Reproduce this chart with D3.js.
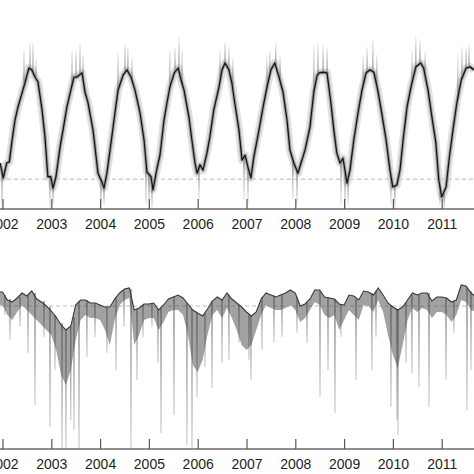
<!DOCTYPE html>
<html><head><meta charset="utf-8">
<script src="https://cdn.jsdelivr.net/npm/d3@7"></script>
<style>html,body{margin:0;padding:0;background:#fff;}svg{display:block;}</style>
</head><body>
<svg id="c" width="474" height="474"></svg>
<script>
// ---------- data ----------
const years = [2002,2003,2004,2005,2006,2007,2008,2009,2010,2011];

// top panel: smoothed temperature (°C)
const topT = [2001.95,2002.016,2002.086,2002.14,2002.19,2002.256,2002.318,2002.40,2002.46,2002.54,2002.60,2002.666,2002.727,2002.81,2002.87,2002.93,2002.99,
2003.035,2003.096,2003.18,2003.24,2003.32,2003.40,2003.465,2003.527,2003.63,2003.69,2003.75,2003.855,2003.957,
2004.039,2004.08,2004.14,2004.24,2004.305,2004.367,2004.47,2004.55,2004.633,2004.715,2004.818,2004.90,2004.96,
2005.043,2005.084,2005.166,2005.227,2005.31,2005.37,2005.43,2005.52,2005.60,2005.66,2005.72,2005.82,2005.88,2005.945,2005.986,
2006.047,2006.109,2006.19,2006.25,2006.33,2006.436,2006.498,2006.56,2006.64,2006.70,2006.76,2006.846,2006.908,2006.97,
2007.03,2007.09,2007.15,2007.256,2007.34,2007.42,2007.50,2007.58,2007.666,2007.748,2007.83,2007.89,2007.97,
2008.055,2008.117,2008.20,2008.30,2008.38,2008.445,2008.486,2008.57,2008.65,2008.73,2008.79,2008.85,2008.916,2008.977,
2009.06,2009.12,2009.20,2009.285,2009.367,2009.45,2009.53,2009.61,2009.69,2009.77,2009.86,2009.94,2009.998,
2010.08,2010.145,2010.21,2010.29,2010.37,2010.47,2010.57,2010.63,2010.72,2010.80,2010.88,2010.94,
2011.00,2011.09,2011.15,2011.23,2011.31,2011.40,2011.50,2011.58,2011.66];
const topMean = [2.7,0.2,2.7,2.9,6.1,9.9,12.1,14.4,16.1,18.6,18.3,17.1,16.3,11.6,7.1,0.4,0.4,
-1.5,0.4,5.4,8.2,12.1,14.9,17.1,17.1,17.8,14.6,12.9,8.2,1.0,
-0.5,-1.5,1.0,7.1,11.1,14.9,17.4,18.3,17.1,14.9,11.1,6.6,1.2,
0.4,-1.8,1.8,4.0,9.9,12.75,15.4,17.8,18.6,16.6,14.9,10.4,6.6,2.7,1.0,
2.4,1.5,4.4,7.1,11.6,15.4,18.3,19.45,18.3,16.1,12.75,8.2,3.2,4.0,
2.0,0.2,3.7,8.2,12.1,15.4,18.3,19.45,17.1,14.6,9.9,4.9,2.7,
1.0,2.7,4.9,8.7,14.6,17.3,17.8,17.9,17.8,12.75,8.2,4.4,2.7,3.5,
-0.65,1.5,6.6,11.1,14.9,17.8,18.3,17.9,14.9,11.1,6.6,1.5,-1.3,
-1.0,1.5,6.6,12.1,15.4,18.8,19.45,18.6,14.9,10.4,6.1,-0.1,
-3.0,-1.3,3.2,8.2,12.75,16.6,18.6,18.8,18.3];
// top panel: daily extremes as spikes [time, from, to]
const topSpikes = [
[2002.44,16,21.6],[2002.564,18.5,23.0],[2002.625,18.0,22.8],[2002.687,17,20.0],
[2003.424,15.5,21.6],[2003.506,17,21.6],[2003.588,17.5,22.8],[2003.65,17,20.8],
[2004.367,15,21.1],[2004.51,18,22.5],[2004.57,18.2,22.1],[2004.654,16.8,20.3],
[2005.43,15.4,21.6],[2005.535,18,22.0],[2005.617,18.3,23.8],[2005.68,16,21.6],
[2006.457,16.5,21.6],[2006.56,19.4,23.0],[2006.64,18.3,22.1],[2006.72,15.5,20.4],
[2007.42,15.4,20.8],[2007.48,17.8,21.6],[2007.60,19,22.8],[2007.687,16.8,20.8],
[2008.38,14.6,22.5],[2008.465,17.5,22.8],[2008.57,17.9,22.5],[2008.65,17.8,22.0],
[2009.39,15.5,20.8],[2009.47,18,22.1],[2009.59,18,23.3],[2009.67,16,20.8],
[2010.39,15.8,21.3],[2010.47,18.8,23.8],[2010.555,19.4,23.3],[2010.66,18,21.3],
[2011.33,13.5,20.8],[2011.415,16.8,22.1],[2011.50,18.6,22.0],[2011.56,18.8,22.5],
[2001.99,1,-5],[2002.973,0.4,-5],[2003.035,-1.5,-4.3],[2004.018,-0.3,-5],[2004.08,-1.5,-4.3],
[2004.94,2,-4.3],[2005.002,0.8,-5],[2005.063,-1,-5],[2006.027,2,-3.5],[2006.95,4,-3.5],
[2007.03,2,-4.3],[2007.95,3,-3.5],[2008.035,1.5,-4.3],[2008.936,3,-4.3],[2009.02,1,-5],
[2009.08,0,-4.3],[2009.96,0.5,-4.3],[2010.04,-1.2,-5],[2010.964,-1,-4.3],[2011.05,-2.5,-5]];
const topRef = 0;

// bottom panel: upper envelope and lower envelope of the noisy series
const botT = [2001.9,
2002.0,2002.1,2002.2,2002.3,2002.4,2002.5,2002.6,2002.7,2002.8,2002.9,
2003.0,2003.1,2003.2,2003.3,2003.4,2003.5,2003.6,2003.7,2003.8,2003.9,
2004.0,2004.1,2004.2,2004.3,2004.4,2004.5,2004.6,2004.7,2004.8,2004.9,
2005.0,2005.1,2005.2,2005.3,2005.4,2005.5,2005.6,2005.7,2005.8,2005.9,
2006.0,2006.1,2006.2,2006.3,2006.4,2006.5,2006.6,2006.7,2006.8,2006.9,
2007.0,2007.1,2007.2,2007.3,2007.4,2007.5,2007.6,2007.7,2007.8,2007.9,
2008.0,2008.1,2008.2,2008.3,2008.4,2008.5,2008.6,2008.7,2008.8,2008.9,
2009.0,2009.1,2009.2,2009.3,2009.4,2009.5,2009.6,2009.7,2009.8,2009.9,
2010.0,2010.1,2010.2,2010.3,2010.4,2010.5,2010.6,2010.7,2010.8,2010.9,
2011.0,2011.1,2011.2,2011.3,2011.4,2011.5,2011.6,2011.7];
const botHigh = [78.5,
78.5,74.5,73.5,75.5,78,76.5,79,75,73.5,71.5,
69,66,62,59.5,61.5,72,74.5,74.5,73,73,
72,71,71,75,78,80,80.5,69.5,70.5,72.5,
72.5,73,69.5,72,75,76,77,75.5,72.5,69.5,
68,66.5,70,74,76,74.5,78,75,73,71,
68.5,66.5,68.5,75,78,77,76,77,78,79.5,
78,71.5,72.5,75,79.5,79.5,76,75.5,75,72.5,
72,77,76.5,74.5,79,78.5,77,80.5,77,73,
71,69.5,71,74.5,78,77,78,78,74,76,
76,75.5,73.5,74.5,82,81.5,78,76];
const botLow = [72,
72,67,64.5,68.5,72,69.5,67,64.5,62,59.5,
57,49.5,37,32,39.5,54.5,64.5,67,65.5,65.5,
64.5,59.5,52,64.5,72,74.5,75.5,52,57,64.5,
65.5,65.5,59.5,63.5,68.5,69.5,69.5,67,57,42,
38.5,44.5,57,67,69.5,65.5,70.5,65.5,59.5,52,
49.5,52,59.5,67,72,70.5,69.5,69.5,70.5,72,
69.5,63.5,65.5,69.5,73.5,72,67,65.5,67,59.5,
64.5,69.5,67,64.5,72,71.5,68.5,74.5,68.5,57,
47,40.5,52,64.5,70.5,68.5,70.5,69.5,65.5,68.5,
68.5,67,63.5,67,74.5,73.5,69.5,68.5];
// bottom panel: drop-outs [time, from, to]
const botSpikes = [
[2002.05,77,67],[2002.154,75,54.5],[2002.359,76,61],[2002.523,77,48],[2002.666,78,22],[2002.85,74,56],
[2002.973,71,11],[2003.076,67,39.5],[2003.22,63,0],[2003.30,60,0],[2003.40,61,14.5],[2003.465,66,9.5],
[2003.568,74,0],[2003.73,74.5,46],[2003.896,73,56],[2004.14,71,48],[2004.326,76,39.5],[2004.49,79,61],
[2004.633,80,0],[2004.756,70,34.5],[2004.879,72,56],[2005.063,73,61],[2005.186,70,43],[2005.248,71,8],
[2005.514,76,17],[2005.78,73,2],[2005.883,70,0],[2005.985,68,26],[2006.149,68,41],[2006.293,74,30.5],
[2006.498,75,43],[2006.64,77,44.5],[2006.846,72,53],[2007.05,67,44.5],[2007.092,66.5,34.5],[2007.317,76,49.5],
[2007.563,77,53],[2007.727,77,56],[2008.035,76,58],[2008.24,73,53],[2008.506,79,26],[2008.67,76,39.5],
[2008.813,75,18],[2008.936,72.5,56],[2009.244,75,34.5],[2009.57,78,39.5],[2009.653,79,56],[2009.96,72,21],
[2010.083,70,14.5],[2010.104,70,7],[2010.268,73,43],[2010.39,77,38],[2010.534,77,31],[2010.74,78,21],
[2011.088,75.5,34.5],[2011.25,74,58],[2011.518,81,19.5],[2011.6,79,39.5]];
const botRef = 71.5;

// ---------- drawing ----------
const W = 474;
const svg = d3.select("#c");
const x = d3.scaleLinear().domain([2002, 2011]).range([2.5, 441.7]);
const yT = d3.scaleLinear().domain([-5, 30]).range([209, 0]);
const yB = d3.scaleLinear().domain([0, 100]).range([449, 249]);

const defs = svg.append("defs");
defs.append("clipPath").attr("id","clipT").append("rect").attr("x",0).attr("y",0).attr("width",W).attr("height",209);
defs.append("clipPath").attr("id","clipB").append("rect").attr("x",0).attr("y",240).attr("width",W).attr("height",209);
function fadeGrad(id, c, o0, o1){
  const g = defs.append("linearGradient").attr("id",id).attr("x1",0).attr("y1",0).attr("x2",0).attr("y2",1);
  g.append("stop").attr("offset","0%").attr("stop-color",c).attr("stop-opacity",o0);
  g.append("stop").attr("offset","100%").attr("stop-color",c).attr("stop-opacity",o1);
}
fadeGrad("fadeUp","#848484",0.15,0.9);     // tip at top
fadeGrad("fadeDown","#7a7a7a",0.9,0.15);   // tip at bottom
fadeGrad("fadeDownB","#505050",0.95,0.3);

function spikeRects(g, data, y, gradDown, gradUp, w){
  g.selectAll(null).data(data).join("rect")
    .attr("x",d=>x(d[0])-w/2).attr("width",w)
    .attr("y",d=>Math.min(y(d[1]),y(d[2])))
    .attr("height",d=>Math.abs(y(d[1])-y(d[2])))
    .attr("fill",d=> d[2] < d[1] ? `url(#${gradDown})` : `url(#${gradUp})`);
}

// ---- top panel ----
const gT = svg.append("g").attr("clip-path","url(#clipT)");
gT.append("line").attr("x1",0).attr("x2",W).attr("y1",yT(topRef)).attr("y2",yT(topRef))
  .attr("stroke","#b8b8b8").attr("stroke-width",1).attr("stroke-dasharray","4,3");

const topData = topT.map((t,i)=>[t, topMean[i]]);
const lineT = d3.line().x(d=>x(d[0])).y(d=>yT(d[1]));
gT.append("path").datum(topData).attr("d",lineT).attr("fill","none")
  .attr("stroke","#d6d6d6").attr("stroke-width",8).attr("stroke-linejoin","round").attr("opacity",0.7);
gT.append("path").datum(topData).attr("d",lineT).attr("fill","none")
  .attr("stroke","#909090").attr("stroke-width",3.5).attr("stroke-linejoin","round").attr("opacity",0.75);
spikeRects(gT, topSpikes, yT, "fadeDown", "fadeUp", 1.3);
gT.append("path").datum(topData).attr("d",lineT).attr("fill","none")
  .attr("stroke","#151515").attr("stroke-width",1.3).attr("stroke-linejoin","round");

// ---- bottom panel ----
const gB = svg.append("g").attr("clip-path","url(#clipB)");
gB.append("line").attr("x1",0).attr("x2",W).attr("y1",yB(botRef)).attr("y2",yB(botRef))
  .attr("stroke","#b8b8b8").attr("stroke-width",1).attr("stroke-dasharray","4,3");
const botData = botT.map((t,i)=>[t, botHigh[i], botLow[i]]);
gB.append("path").datum(botData)
  .attr("d", d3.area().x(d=>x(d[0])).y0(d=>yB(d[2])).y1(d=>yB(d[1])))
  .attr("fill","#555").attr("opacity",0.55);
spikeRects(gB, botSpikes, yB, "fadeDownB", "fadeUp", 1.1);
gB.append("path").datum(botData)
  .attr("d", d3.line().x(d=>x(d[0])).y(d=>yB(d[1])))
  .attr("fill","none").attr("stroke","#383838").attr("stroke-width",1.1);

// ---- axes ----
function drawAxis(yPos){
  svg.append("line").attr("x1",0).attr("x2",W).attr("y1",yPos).attr("y2",yPos)
    .attr("stroke","#6a6a6a").attr("stroke-width",1.5);
  const ax = svg.append("g").attr("transform",`translate(0,${yPos})`)
    .call(d3.axisBottom(x).tickValues(years).tickFormat(d3.format("d")).tickSize(-10).tickPadding(10));
  ax.select(".domain").remove();
  ax.selectAll(".tick line").attr("stroke","#555").attr("stroke-width",1.2);
  ax.selectAll(".tick text").attr("fill","#1e1e1e")
    .style("font-family","'Liberation Sans', Arial, sans-serif").style("font-size","14px");
}
drawAxis(209);
drawAxis(449);
</script>
</body></html>
